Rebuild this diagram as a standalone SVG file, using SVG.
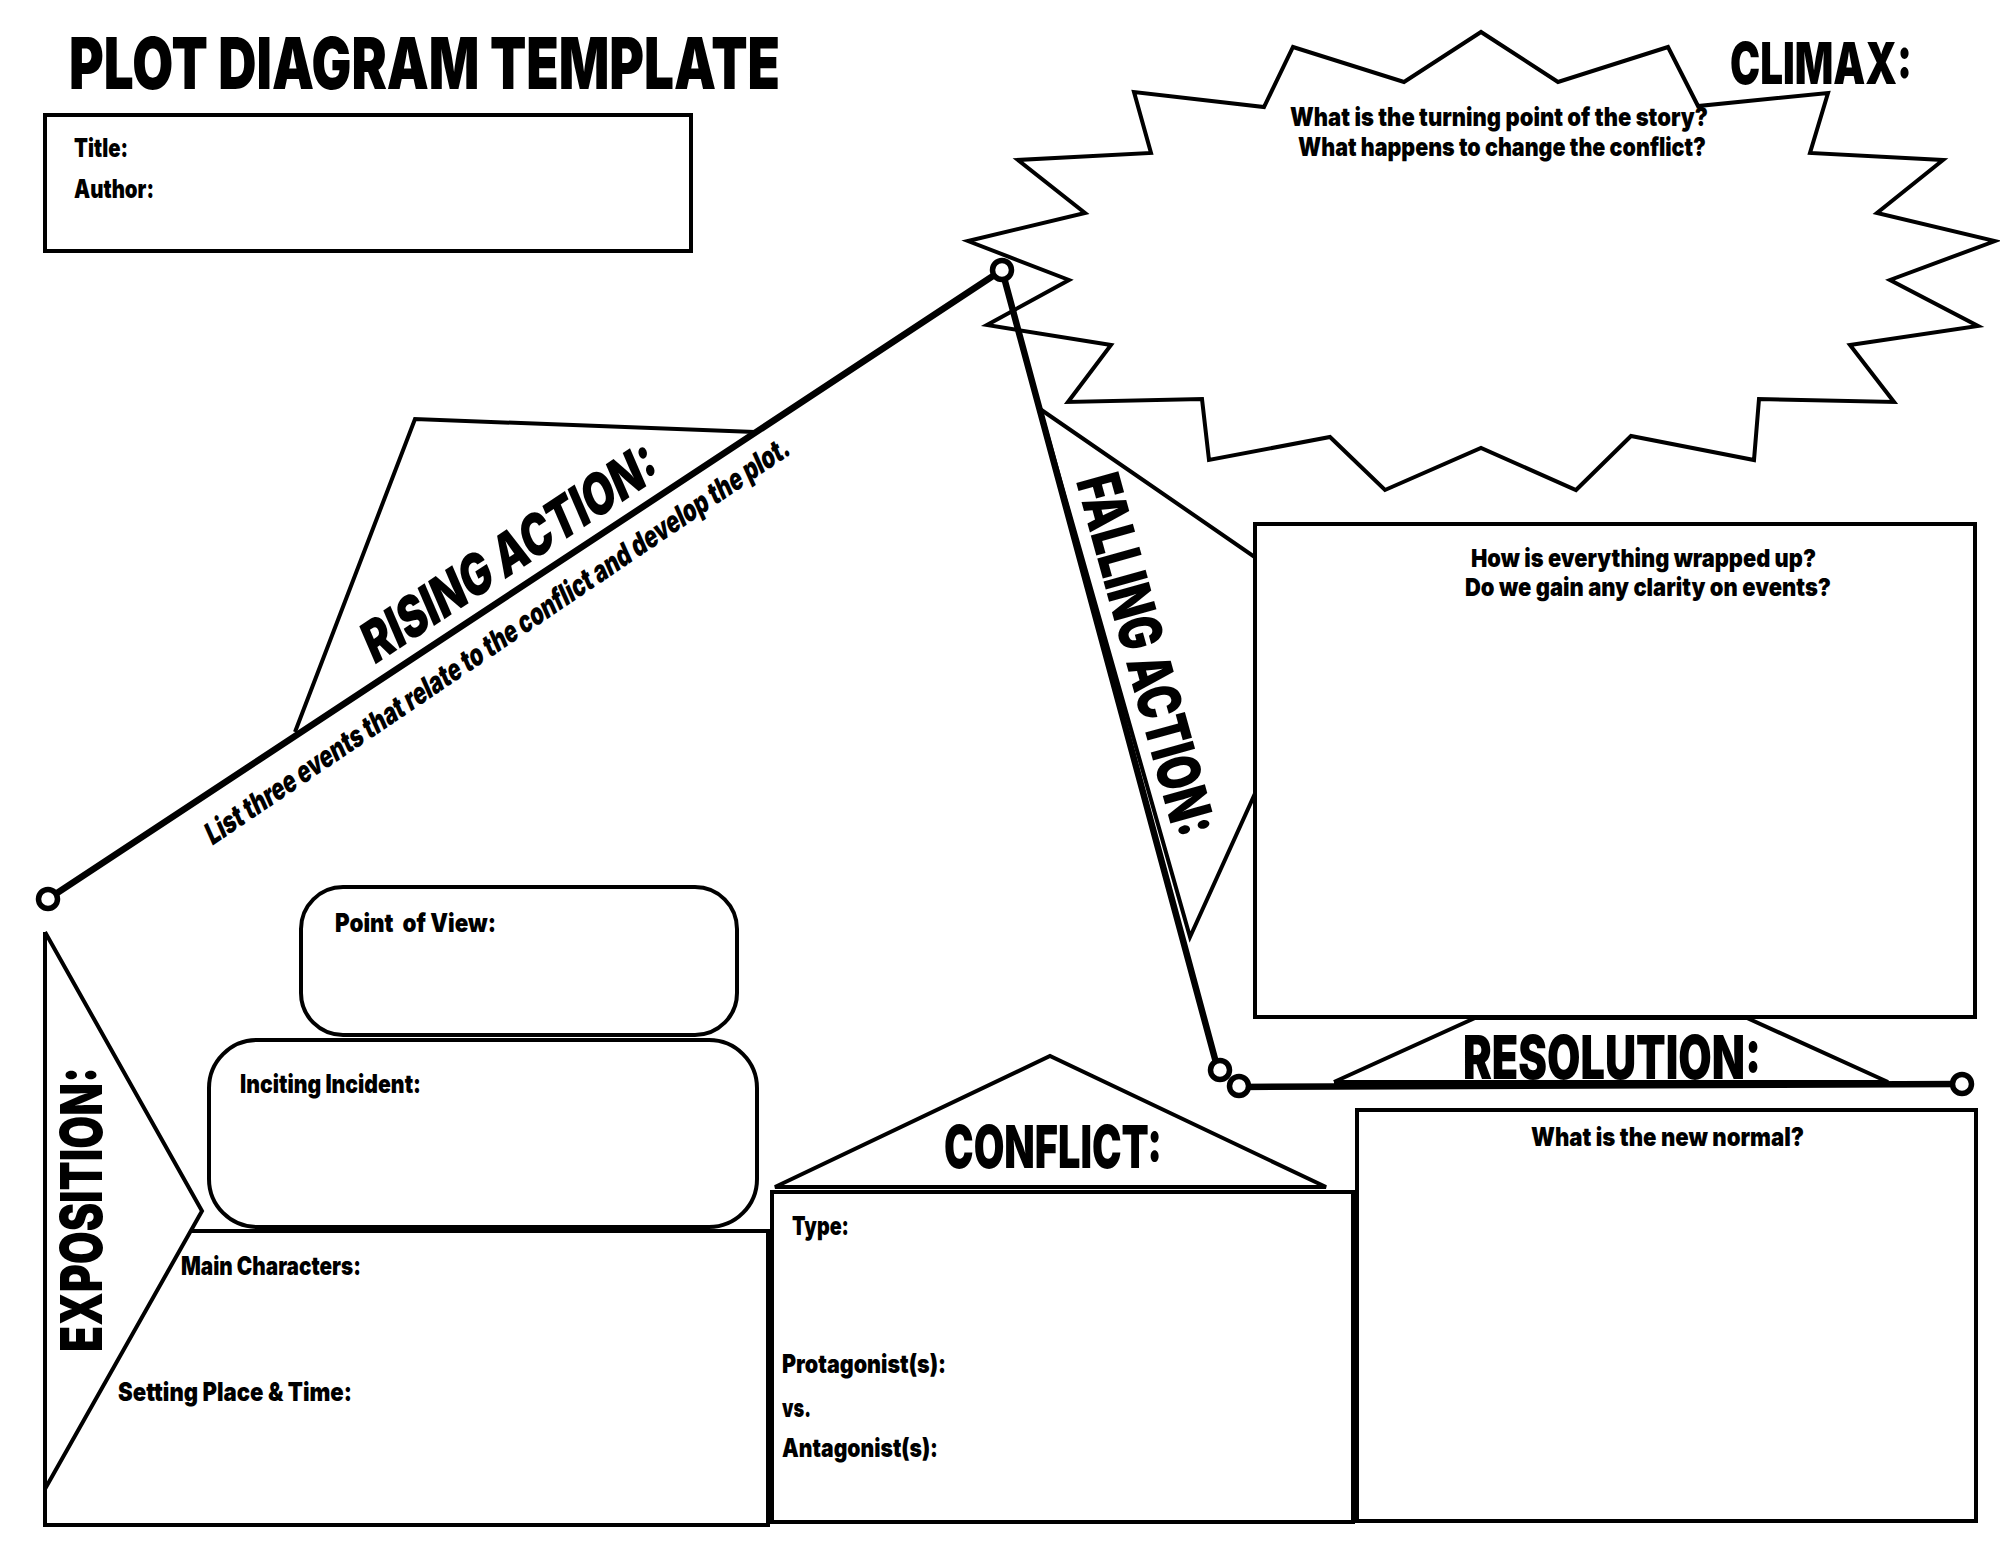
<svg xmlns="http://www.w3.org/2000/svg" width="2000" height="1545" viewBox="0 0 2000 1545">
  <style>
    .bg { fill: #ffffff; }
    .box { fill: #ffffff; stroke: #000000; stroke-width: 4; stroke-linejoin: miter; }
    .ln { fill: none; stroke: #000000; stroke-width: 4; stroke-linejoin: miter; }
    .plot { fill: none; stroke: #000000; stroke-width: 6.5; stroke-linecap: round; }
    .dot { fill: #ffffff; stroke: #000000; stroke-width: 5.5; }
    text { font-family: Inter, Roboto, "Liberation Sans", sans-serif; font-weight: 900; fill: #000000; }
    .head { font-size: 60px; }
    .lab { font-size: 26px; }
  </style>

  <rect class="bg" x="0" y="0" width="2000" height="1545"/>

  <!-- Heading -->
  <g id="title">
    <text x="69" y="89" style="font-size:72px" textLength="711" lengthAdjust="spacingAndGlyphs">PLOT DIAGRAM TEMPLATE</text>
  </g>

  <!-- Title / author box -->
  <g id="title-box">
    <rect class="box" x="45" y="115" width="646" height="136"/>
    <text class="lab" x="74" y="157" textLength="54" lengthAdjust="spacingAndGlyphs">Title:</text>
    <text class="lab" x="74" y="198" textLength="80" lengthAdjust="spacingAndGlyphs">Author:</text>
  </g>

  <!-- Climax starburst -->
  <g id="climax">
    <polygon class="box" points="1481,32 1404,82 1293,47 1264,107 1134,92 1151,153 1018,160 1085,213 968,241 1069,280 987,325 1111,345 1068,402 1202,399 1209,460 1330,437 1385,490 1481,448 1576,490 1631,436 1754,460 1759,399 1894,402 1850,345 1978,326 1890,280 1995,241 1877,213 1943,160 1810,153 1828,93 1698,106 1668,47 1558,82"/>
    <text class="head" x="1730" y="84" style="font-size:58px" textLength="182" lengthAdjust="spacingAndGlyphs">CLIMAX:</text>
    <text class="lab" x="1290" y="126" textLength="418" lengthAdjust="spacingAndGlyphs">What is the turning point of the story?</text>
    <text class="lab" x="1298" y="156" textLength="408" lengthAdjust="spacingAndGlyphs">What happens to change the conflict?</text>
  </g>

  <!-- Rising action pennant; labels are slanted with a skew -->
  <g id="rising-action">
    <polyline class="ln" points="295,732 415,419 755,432"/>
    <g transform="translate(48,899) rotate(-33.34) skewX(-10)">
      <text class="head" x="398" y="-16" style="font-size:56px" textLength="344" lengthAdjust="spacingAndGlyphs">RISING ACTION:</text>
    </g>
    <g transform="translate(212,846) rotate(-34.1) skewX(-10)">
      <text x="0" y="0" style="font-size:30px" textLength="700" lengthAdjust="spacingAndGlyphs">List three events that relate to the conflict and develop the plot.</text>
    </g>
  </g>

  <!-- Falling action pennant -->
  <g id="falling-action">
    <polygon class="ln" points="1040,409 1262,562 1262,778 1190,937"/>
    <g transform="translate(1002,270) rotate(74.57)">
      <text class="head" x="223" y="-15" textLength="373" lengthAdjust="spacingAndGlyphs">FALLING ACTION:</text>
    </g>
  </g>

  <!-- Falling action notes box -->
  <g id="falling-box">
    <rect class="box" x="1255" y="524" width="720" height="493"/>
    <text class="lab" x="1471" y="567" style="font-size:25px" textLength="345" lengthAdjust="spacingAndGlyphs">How is everything wrapped up?</text>
    <text class="lab" x="1465" y="596" style="font-size:25px" textLength="366" lengthAdjust="spacingAndGlyphs">Do we gain any clarity on events?</text>
  </g>

  <!-- Resolution pennant -->
  <g id="resolution">
    <polyline class="ln" points="1334,1082 1475,1018 1747,1018 1888,1082 1334,1082"/>
    <text class="head" x="1463" y="1079" textLength="298" lengthAdjust="spacingAndGlyphs">RESOLUTION:</text>
  </g>

  <!-- Resolution notes box -->
  <g id="new-normal">
    <rect class="box" x="1357" y="1110" width="619" height="411"/>
    <text class="lab" x="1531" y="1146" textLength="273" lengthAdjust="spacingAndGlyphs">What is the new normal?</text>
  </g>

  <!-- Conflict house -->
  <g id="conflict">
    <polygon class="ln" points="775,1187 1050,1056 1326,1187"/>
    <text class="head" x="944" y="1168" style="font-size:59px" textLength="218" lengthAdjust="spacingAndGlyphs">CONFLICT:</text>
    <rect class="box" x="772" y="1192" width="581" height="330"/>
    <text class="lab" x="792" y="1235" textLength="57" lengthAdjust="spacingAndGlyphs">Type:</text>
    <text class="lab" x="782" y="1373" textLength="164" lengthAdjust="spacingAndGlyphs">Protagonist(s):</text>
    <text class="lab" x="782" y="1417" textLength="29" lengthAdjust="spacingAndGlyphs">vs.</text>
    <text class="lab" x="782" y="1457" textLength="156" lengthAdjust="spacingAndGlyphs">Antagonist(s):</text>
  </g>

  <!-- Exposition frame -->
  <g id="exposition">
    <polyline class="ln" points="191,1231 768,1231 768,1525 45,1525 45,932"/>
    <polyline class="ln" points="45,932 202,1211 45,1489"/>
    <text class="head" transform="translate(102,1352) rotate(-90)" x="0" y="0" style="font-size:58px" textLength="285" lengthAdjust="spacingAndGlyphs">EXPOSITION:</text>
    <text class="lab" x="181" y="1275" textLength="180" lengthAdjust="spacingAndGlyphs">Main Characters:</text>
    <text class="lab" x="118" y="1401" textLength="234" lengthAdjust="spacingAndGlyphs">Setting Place &amp; Time:</text>
  </g>

  <g id="point-of-view">
    <rect class="box" x="301" y="887" width="436" height="148" rx="42" ry="42"/>
    <text class="lab" x="335" y="932" style="white-space:pre" xml:space="preserve" textLength="161" lengthAdjust="spacingAndGlyphs">Point  of View:</text>
  </g>

  <g id="inciting-incident">
    <rect class="box" x="209" y="1040" width="548" height="187" rx="48" ry="48"/>
    <text class="lab" x="240" y="1093" textLength="181" lengthAdjust="spacingAndGlyphs">Inciting Incident:</text>
  </g>

  <!-- Plot line: rising, falling and resolution segments with their end rings -->
  <g id="connectors">
    <line class="plot" x1="48" y1="899" x2="1002" y2="270"/>
    <line class="plot" x1="1002" y1="270" x2="1218" y2="1070"/>
    <line class="plot" x1="1239" y1="1087" x2="1962" y2="1084"/>
    <circle class="dot" cx="48" cy="899" r="9.5"/>
    <circle class="dot" cx="1002" cy="270" r="9.5"/>
    <circle class="dot" cx="1220" cy="1070" r="9.5"/>
    <circle class="dot" cx="1239" cy="1086" r="9.5"/>
    <circle class="dot" cx="1962" cy="1084" r="9.5"/>
  </g>
</svg>
